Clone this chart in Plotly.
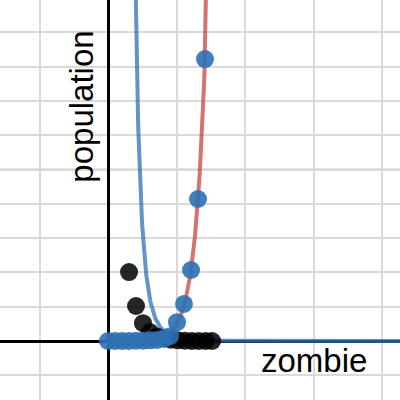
import numpy as np
import plotly.graph_objects as go

# blue points (follow red exponential curve)
blue_x = [0.0, 0.102, 0.204, 0.306, 0.408, 0.51, 0.612, 0.714, 0.816, 0.905, 1.007, 1.109, 1.212, 1.314, 1.416]
blue_y = [0.0, 0.0, 0.0, 0.0, 0.01, 0.01, 0.02, 0.03, 0.07, 0.14, 0.55, 1.08, 2.07, 4.14, 8.22]
# black points
black_x = [0.307, 0.409, 0.511, 0.613, 0.715, 0.817, 0.919, 1.021, 1.123, 1.225, 1.327, 1.429, 1.52]
black_y = [2.01, 1.02, 0.52, 0.26, 0.13, 0.07, 0.04, 0.02, 0.01, 0.0, 0.0, 0.0, 0.0]
# fitted curve parameters
red_a, red_x0, red_step = 8.22, 1.416, 0.1025
blue_a, blue_n = 0.105, 5

xs = np.linspace(0.3, 4.4, 800)
red_xs = np.linspace(0.0, 1.6, 400)
red_ys = red_a * 2 ** ((red_xs - red_x0) / red_step)
blue_ys = blue_a / xs ** blue_n

fig = go.Figure()
fig.add_trace(go.Scatter(x=red_xs, y=red_ys, mode="lines",
                         line=dict(color="rgba(199,68,64,0.75)", width=4)))
fig.add_trace(go.Scatter(x=xs, y=blue_ys, mode="lines",
                         line=dict(color="rgba(45,112,179,0.75)", width=4)))
fig.add_trace(go.Scatter(x=black_x, y=black_y, mode="markers",
                         marker=dict(color="rgba(0,0,0,0.85)", size=18)))
fig.add_trace(go.Scatter(x=blue_x, y=blue_y, mode="markers",
                         marker=dict(color="rgba(45,112,179,0.9)", size=18)))

fig.add_shape(type="line", xref="paper", x0=0, x1=1, y0=5, y1=5,
              line=dict(color="#999", width=1.5), layer="below")

fig.add_annotation(x=-0.1, y=(341-107)/34.3, text="population", textangle=-90,
                   showarrow=False, xanchor="right", font=dict(size=33, color="black", family="Liberation Sans"))
fig.add_annotation(x=(369-108)/68.5, y=(341-360)/34.3, text="zombie",
                   showarrow=False, xanchor="right", font=dict(size=33, color="black", family="Liberation Sans"))

fig.update_layout(width=400, height=400, margin=dict(l=0, r=0, t=0, b=0),
                  plot_bgcolor="white", paper_bgcolor="white", showlegend=False)
fig.update_xaxes(range=[-108/68.5, 292/68.5], dtick=1, tick0=0, showgrid=True,
                 gridcolor="#dadada", gridwidth=1.5, zeroline=True, zerolinecolor="black",
                 zerolinewidth=2.5, showticklabels=False, ticks="")
fig.update_yaxes(range=[-59/34.3, 341/34.3], dtick=1, tick0=0, showgrid=True,
                 gridcolor="#dadada", gridwidth=1.5, zeroline=True, zerolinecolor="black",
                 zerolinewidth=2.5, showticklabels=False, ticks="")
fig.write_html("out.html", config={"displayModeBar": False})
with open("out.html", encoding="utf-8") as f:
    html = f.read()
html = html.replace("<head>", "<head><style>html,body{margin:0;padding:0;overflow:hidden}</style>", 1)
with open("out.html", "w", encoding="utf-8") as f:
    f.write(html)
